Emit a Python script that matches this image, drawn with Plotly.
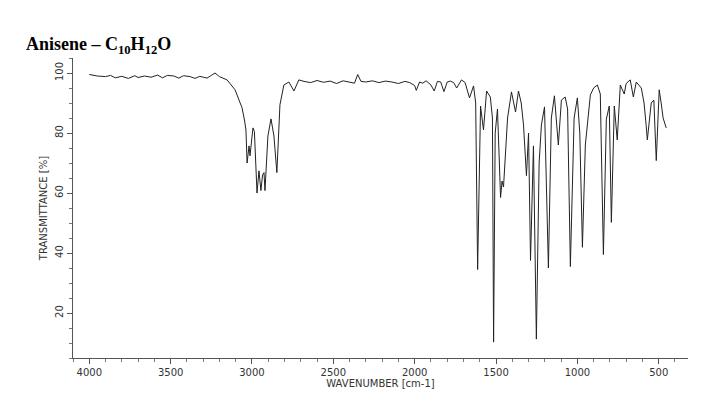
import plotly.graph_objects as go

wavenumber = [4000,3950,3900,3870,3840,3800,3760,3720,3700,3660,3620,3580,3550,3520,3480,3450,3420,3380,3350,3320,3300,3276,3250,3227,3200,3153,3104,3061,3045,3037,3030,3018,3012,2994,2985,2969,2957,2945,2935,2926,2920,2902,2883,2865,2847,2828,2804,2773,2742,2712,2680,2640,2600,2560,2520,2480,2440,2400,2370,2350,2330,2300,2260,2220,2180,2140,2100,2060,2030,2000,1990,1970,1950,1930,1900,1880,1860,1840,1820,1800,1780,1760,1742,1712,1690,1663,1638,1625,1613,1595,1577,1558,1535,1522,1515,1505,1491,1472,1463,1454,1429,1405,1380,1362,1345,1331,1313,1300,1288,1270,1252,1235,1221,1202,1178,1160,1141,1117,1098,1075,1060,1043,1020,1000,985,969,951,920,900,877,859,840,822,804,791,773,755,736,712,700,675,656,638,607,590,577,570,546,530,515,497,485,473,454]
transmittance = [99.5,99.0,98.8,99.2,98.4,98.9,98.2,99.1,98.5,99.0,98.6,99.3,98.4,99.2,99.0,98.3,99.1,98.8,98.2,98.9,98.6,98.3,99.2,100.0,98.8,97.7,94.4,88.4,84.0,81.0,70.0,75.7,72.4,81.7,80.5,60.0,67.4,60.8,66.0,66.8,60.8,79.0,84.7,79.0,66.8,89.4,96.0,97.0,94.0,97.7,97.2,96.8,97.5,96.9,97.3,96.5,97.4,97.0,96.6,99.5,97.2,97.0,97.4,96.8,97.3,97.0,96.5,97.2,96.8,95.8,94.2,97.0,96.6,97.4,96.0,94.0,97.2,97.0,93.8,97.0,97.3,96.8,95.0,97.7,96.8,91.7,95.7,90.0,34.5,89.0,81.0,94.0,92.0,85.0,10.3,80.0,88.0,58.5,64.0,62.0,85.0,93.7,87.0,94.0,90.0,82.7,65.8,80.0,37.5,75.7,11.3,70.0,82.7,88.7,35.0,85.0,92.4,76.0,91.0,92.0,88.0,35.5,85.0,91.7,80.0,41.9,76.0,92.7,95.0,96.0,93.0,39.5,84.6,89.0,50.2,89.0,77.7,96.0,93.0,96.5,97.7,92.0,97.0,95.0,90.0,82.4,77.7,90.0,91.0,70.8,94.4,90.0,85.0,81.7]

fig = go.Figure(go.Scatter(x=wavenumber, y=transmittance, mode="lines",
                           line=dict(color="#222222", width=1)))

axis_common = dict(showline=True, linecolor="#555555", linewidth=1, ticks="outside",
                   ticklen=5, tickcolor="#555555", showgrid=False, zeroline=False,
                   tickfont=dict(family="DejaVu Sans", size=10, color="#333333"),
                   mirror=False, automargin=False)
fig.update_xaxes(range=[4100, 320], tickvals=[4000,3500,3000,2500,2000,1500,1000,500],
                 minor=dict(dtick=100, ticks="outside", ticklen=3, tickcolor="#777777"),
                 title=dict(text="WAVENUMBER [cm-1]", font=dict(family="DejaVu Sans", size=10, color="#333333"), standoff=2),
                 **axis_common)
fig.update_yaxes(range=[5, 105], tickvals=[20,40,60,80,100], tickangle=-90,
                 minor=dict(dtick=5, ticks="outside", ticklen=3, tickcolor="#777777"),
                 title=dict(text="TRANSMITTANCE [%]", font=dict(family="DejaVu Sans", size=10, color="#333333"), standoff=4),
                 **axis_common)
fig.update_layout(
    width=720, height=407, plot_bgcolor="white", paper_bgcolor="white",
    margin=dict(l=65, r=40, t=50, b=57, autoexpand=False), showlegend=False,
    title=dict(text="<b>Anisene – C<sub>10</sub>H<sub>12</sub>O</b>", x=0.025, xanchor="left",
               yref="paper", y=1.0, yanchor="bottom", pad=dict(b=8),
               font=dict(family="Liberation Serif", size=18, color="black")),
)
fig.write_html("out.html")
